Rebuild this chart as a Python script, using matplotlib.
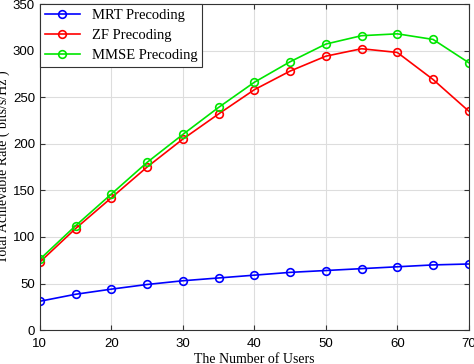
import matplotlib
matplotlib.use("Agg")
import matplotlib.pyplot as plt

# ===== DATA =====
users = [10, 15, 20, 25, 30, 35, 40, 45, 50, 55, 60, 65, 70]
mrt = [31, 38.5, 44, 49, 53, 56, 59, 62, 64, 66, 68, 70, 71]
zf = [73, 109, 142, 175, 205, 232, 258, 278, 294, 302, 298, 269, 235]
mmse = [76, 112, 146, 180, 210, 239, 266, 288, 307, 316, 318, 312, 287]

fig = plt.figure(figsize=(4.74, 3.64), dpi=100)
ax = fig.add_axes([0.084, 0.093, 0.905, 0.896])

style = dict(marker="o", mfc="none", ms=5.5, lw=1.2, mew=1.2)
ax.plot(users, mrt, color="#0000ff", label="MRT Precoding", **style)
ax.plot(users, zf, color="#ff0000", label="ZF Precoding", **style)
ax.plot(users, mmse, color="#00e600", label="MMSE Precoding", **style)

ax.set_xlim(10, 70)
ax.set_ylim(0, 350)
ax.set_xticks(range(10, 71, 10))
ax.set_yticks(range(0, 351, 50))
ax.grid(True, color="#dddddd", lw=0.8)
ax.tick_params(direction="in", top=True, right=True, color="#333333")
for lbl in ax.get_xticklabels() + ax.get_yticklabels():
    lbl.set_fontfamily("Liberation Sans")
    lbl.set_fontsize(9.5)
ax.tick_params(axis="x", pad=6)
for s in ax.spines.values():
    s.set_color("#333333")

serif = {"family": "Liberation Serif", "size": 10}
ax.set_xlabel("The Number of Users", fontdict=serif, labelpad=1.5)
ax.set_ylabel("Total Achievable Rate ( bits/s/Hz )", fontdict=serif)
ax.yaxis.set_label_coords(-0.069, 0.5)

leg = ax.legend(loc="upper left", prop={"family": "Liberation Serif", "size": 10.5},
                fancybox=False, edgecolor="#333333", framealpha=1,
                borderaxespad=0, handlelength=2.4, borderpad=0.35, labelspacing=0.45)
leg.get_frame().set_linewidth(0.8)

fig.savefig("out.png", dpi=100)
